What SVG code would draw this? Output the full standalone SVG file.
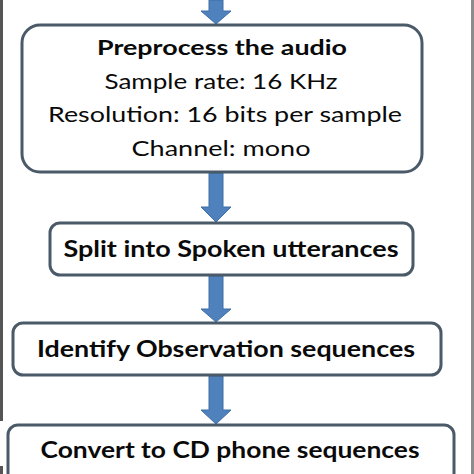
<svg xmlns="http://www.w3.org/2000/svg" width="474" height="474" viewBox="0 0 474 474">
<style>
.box{fill:#ffffff;stroke:#4b5a68;stroke-width:3}
.arrow{fill:#4f81bd;stroke:#3d6ea8;stroke-width:1}
.t{font-family:Lato,"Open Sans","Liberation Sans",sans-serif;fill:#0a0a0a;text-anchor:middle}
.b{font-weight:bold}
</style>
<rect x="0" y="0" width="474" height="474" fill="#ffffff"/>
<rect x="0" y="0" width="3" height="421" fill="#555555"/>
<rect x="0" y="466" width="3" height="8" fill="#555555"/>
<rect x="471" y="0" width="3" height="474" fill="#8c8c8c"/>
<g id="connectors">
<polygon class="arrow" points="209,0 223,0 223,11 231,11 216,24 201,11 209,11"/>
<polygon class="arrow" points="209,173 223,173 223,207 231,207 216,222 201,207 209,207"/>
<polygon class="arrow" points="209,276 223,276 223,309 231,309 216,322 201,309 209,309"/>
<polygon class="arrow" points="209,376 223,376 223,410 231,410 216,424 201,410 209,410"/>
</g>
<g id="preprocess">
<rect class="box" x="22" y="25" width="400" height="147" rx="18"/>
<text class="t b" x="222" y="55" font-size="21.5" textLength="250" lengthAdjust="spacingAndGlyphs">Preprocess the audio</text>
<text class="t" x="221" y="89" font-size="22" textLength="233" lengthAdjust="spacingAndGlyphs">Sample rate: 16 KHz</text>
<text class="t" x="225" y="122" font-size="22" textLength="354" lengthAdjust="spacingAndGlyphs">Resolution: 16 bits per sample</text>
<text class="t" x="221" y="156" font-size="22" textLength="179" lengthAdjust="spacingAndGlyphs">Channel: mono</text>
</g>
<g id="split">
<rect class="box" x="50" y="223" width="363" height="52" rx="10"/>
<text class="t b" x="231" y="257" font-size="23" textLength="335" lengthAdjust="spacingAndGlyphs">Split into Spoken utterances</text>
</g>
<g id="identify">
<rect class="box" x="13" y="323" width="428" height="52" rx="10"/>
<text class="t b" x="226" y="357" font-size="23" textLength="378" lengthAdjust="spacingAndGlyphs">Identify Observation sequences</text>
</g>
<g id="convert">
<rect class="box" x="8" y="425" width="446" height="70" rx="10"/>
<text class="t b" x="230" y="458" font-size="23" textLength="379" lengthAdjust="spacingAndGlyphs">Convert to CD phone sequences</text>
</g>
</svg>
